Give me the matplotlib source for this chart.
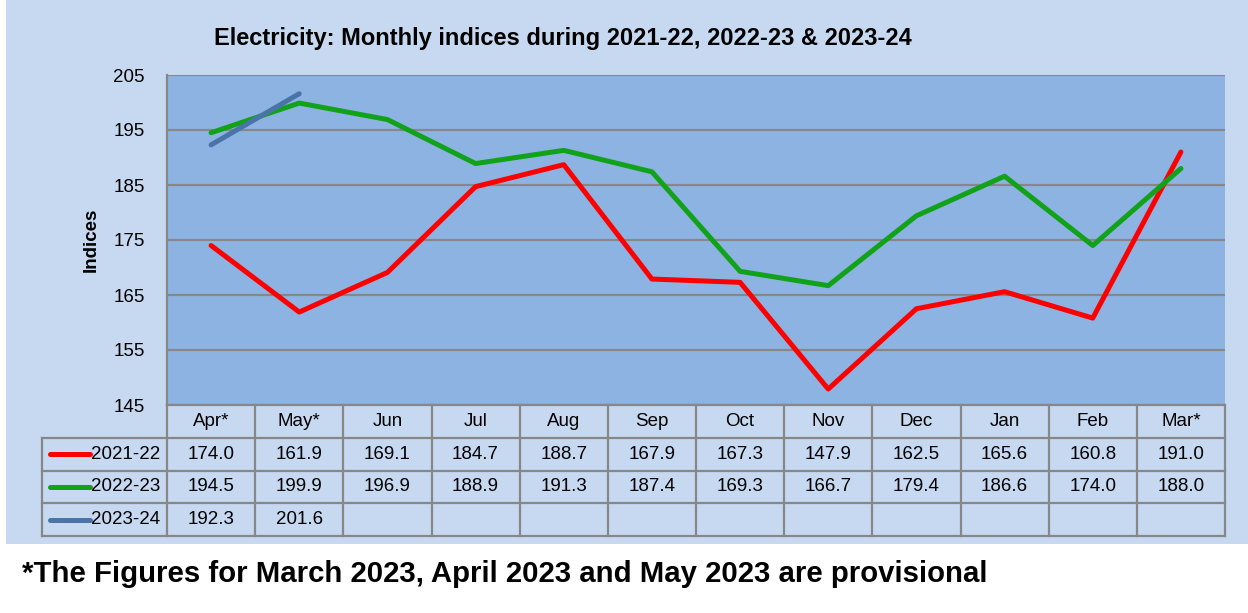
import matplotlib
matplotlib.use('Agg')
import matplotlib.pyplot as plt
from matplotlib.patches import Rectangle

months = ['Apr*', 'May*', 'Jun', 'Jul', 'Aug', 'Sep', 'Oct', 'Nov', 'Dec', 'Jan', 'Feb', 'Mar*']
series_names = ['2021-22', '2022-23', '2023-24']
idx_2021_22 = [174.0, 161.9, 169.1, 184.7, 188.7, 167.9, 167.3, 147.9, 162.5, 165.6, 160.8, 191.0]
idx_2022_23 = [194.5, 199.9, 196.9, 188.9, 191.3, 187.4, 169.3, 166.7, 179.4, 186.6, 174.0, 188.0]
idx_2023_24 = [192.3, 201.6]
yticks = [145, 155, 165, 175, 185, 195, 205]

colors = ['#FF0000', '#12A21A', '#4A74A8']
light_bg = '#C6D9F1'
plot_bg = '#8DB3E2'
grid_c = '#878787'

W, H = 1248, 613
fig = plt.figure(figsize=(W / 100, H / 100), dpi=100)
fig.patch.set_facecolor('white')

def fx(px):
    return px / W

def fy(py):
    return (H - py) / H

# light blue chart area
bg = Rectangle((fx(6), fy(544)), 1 - fx(6), 1 - fy(544) + 0.01,
               transform=fig.transFigure, facecolor=light_bg, edgecolor='none')
bg.set_zorder(-10)
fig.add_artist(bg)

# main plot
ax = fig.add_axes([fx(167), fy(405), fx(1225) - fx(167), fy(75) - fy(405)])
ax.set_facecolor(plot_bg)
all_series = [idx_2021_22, idx_2022_23, idx_2023_24]
for vals, c in zip(all_series, colors):
    ax.plot(range(len(vals)), vals, color=c, lw=3.6, solid_capstyle='round', zorder=3)
ax.set_xlim(-0.5, len(months) - 0.5)
ax.set_ylim(145, 205)
ax.set_yticks(yticks)
ax.set_yticklabels([str(v) for v in yticks], fontsize=13.5, family='Liberation Sans')
ax.tick_params(axis='y', length=0, pad=16)
ax.set_xticks([])
for v in yticks:
    ax.axhline(v, color=grid_c, lw=1.6, zorder=1)
for s in ['top', 'right', 'bottom']:
    ax.spines[s].set_visible(False)
ax.spines['left'].set_color(grid_c)
ax.spines['left'].set_linewidth(1.6)
ax.set_ylabel('Indices', fontsize=13.5, fontweight='bold', family='Liberation Sans')
ax.yaxis.set_label_coords(-0.064, 0.5)

fig.text(fx(563), fy(38), 'Electricity: Monthly indices during 2021-22, 2022-23 & 2023-24',
         ha='center', va='center', fontsize=17, fontweight='bold', family='Liberation Sans')

# data table
n = len(months)
col0 = (167 - 42) / ((1225 - 167) / n)
tab = fig.add_axes([fx(42), fy(536), fx(1225) - fx(42), fy(405) - fy(536)])
tab.set_xlim(-col0, n)
tab.set_ylim(0, 4)
tab.axis('off')
lkw = dict(color=grid_c, lw=1.6, clip_on=False)
# horizontal lines
tab.plot([0, n], [4, 4], **lkw)
for yy in [0, 1, 2, 3]:
    tab.plot([-col0, n], [yy, yy], **lkw)
# vertical lines
for xx in range(0, n + 1):
    tab.plot([xx, xx], [0, 4], **lkw)
tab.plot([-col0, -col0], [0, 3], **lkw)

for i, m in enumerate(months):
    tab.text(i + 0.5, 3.5, m, ha='center', va='center', fontsize=13.5, family='Liberation Sans')

for r, (name, vals, c) in enumerate(zip(series_names, all_series, colors)):
    yc = 2.5 - r
    tab.plot([-col0 + 0.09, -col0 + 0.55], [yc, yc], color=c, lw=3.6,
             solid_capstyle='round', clip_on=False)
    tab.text(-col0 + 0.56, yc, name, ha='left', va='center', fontsize=13.5, family='Liberation Sans')
    for i, v in enumerate(vals):
        tab.text(i + 0.5, yc, f'{v:.1f}', ha='center', va='center', fontsize=13.5,
                 family='Liberation Sans')

fig.text(fx(22), fy(574), '*The Figures for March 2023, April 2023 and May 2023 are provisional',
         ha='left', va='center', fontsize=21.2, fontweight='bold', family='Liberation Sans')

fig.savefig('out.png', dpi=100, facecolor=fig.get_facecolor())
